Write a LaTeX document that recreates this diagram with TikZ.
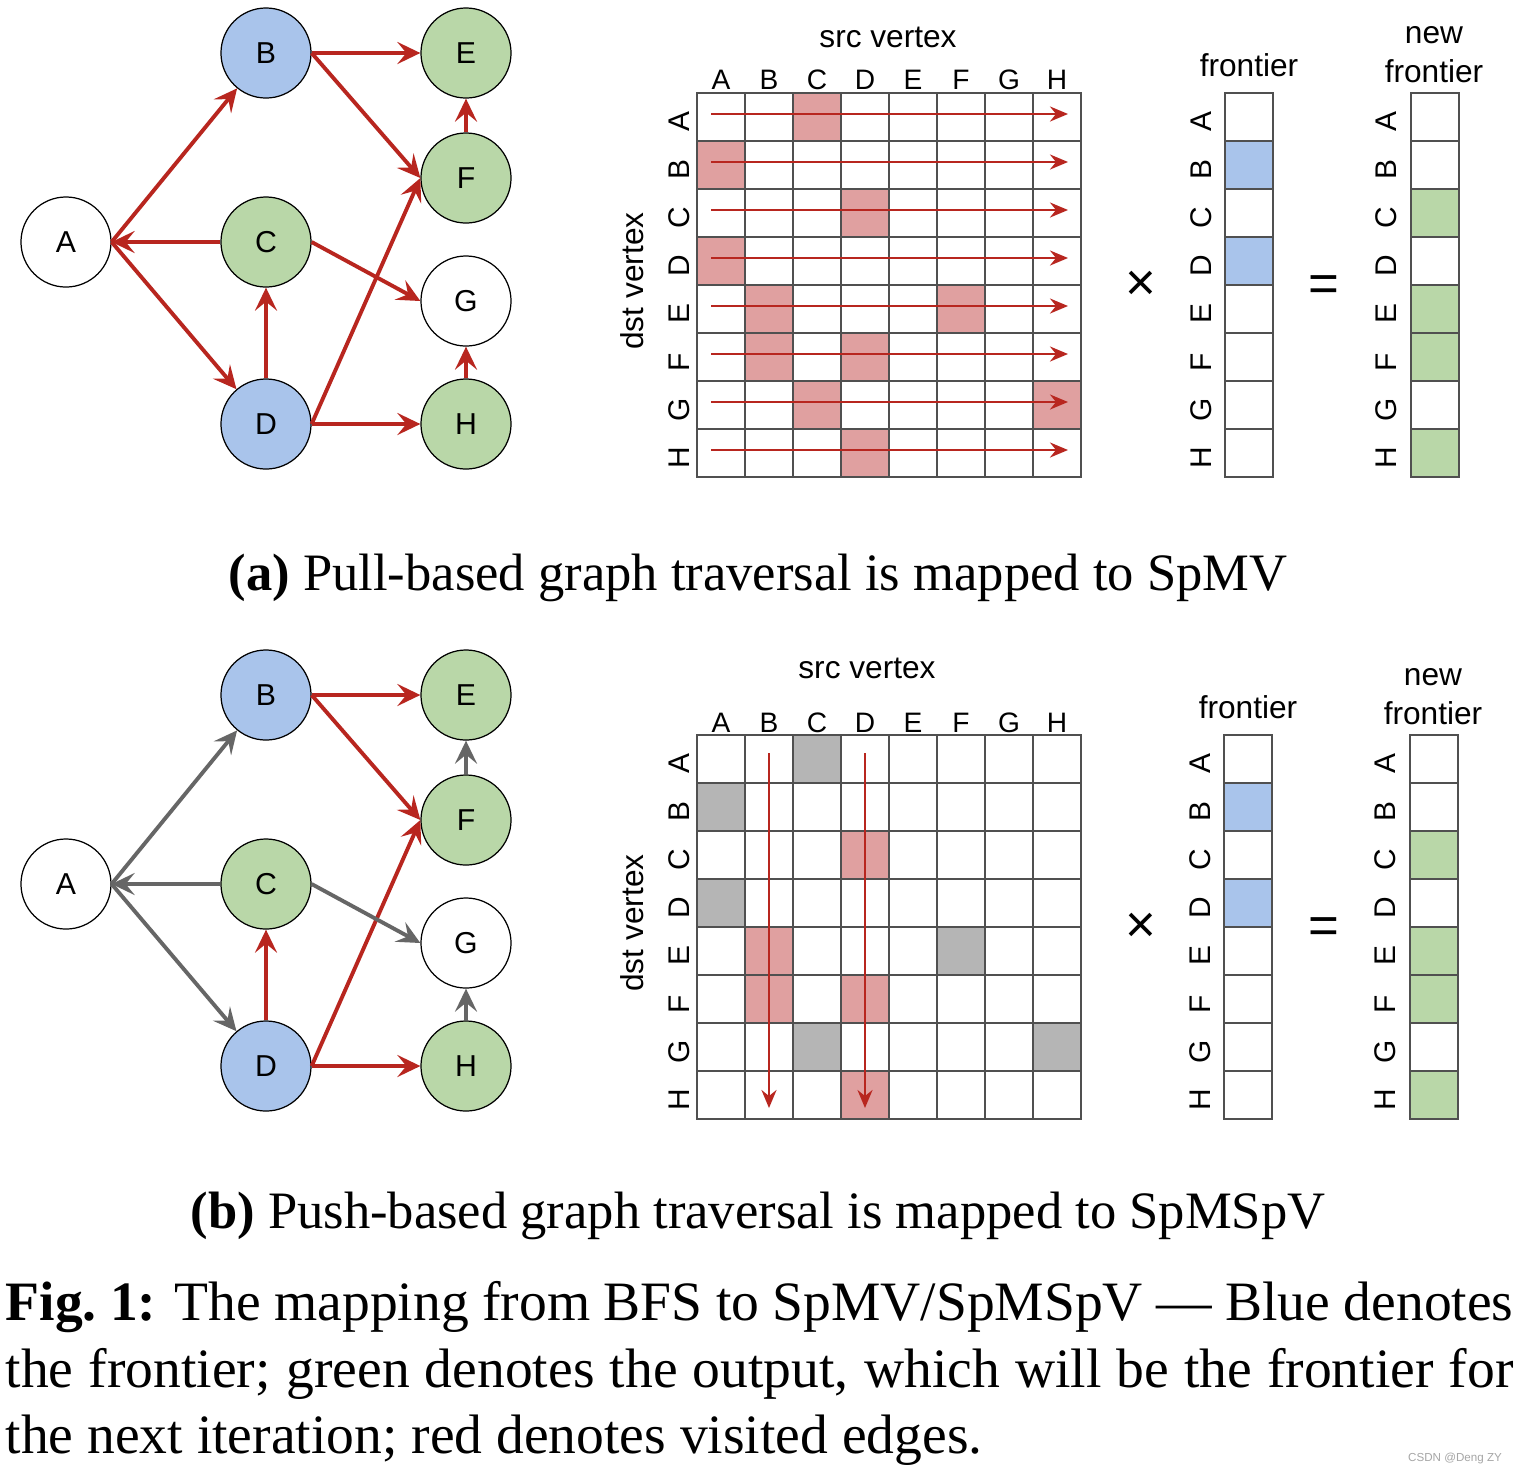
\documentclass[tikz,border=0pt]{standalone}
\usepackage{fontspec}
\setmainfont{Liberation Serif}
\newfontfamily\diagfont{Liberation Sans}
\usetikzlibrary{arrows.meta,positioning}

\definecolor{edgered}{HTML}{B8261F}
\definecolor{edgegray}{HTML}{666666}
\definecolor{frontblue}{HTML}{A9C4EB}
\definecolor{outgreen}{HTML}{B9D7A8}
\definecolor{cellred}{HTML}{E0A0A0}
\definecolor{cellgray}{HTML}{B5B5B5}
\definecolor{gridgray}{HTML}{505050}

\tikzset{
  vertex/.style={circle, draw=black, line width=0.35pt, minimum size=0.9cm,
    inner sep=0pt, font=\diagfont\fontsize{8.6}{10}\selectfont},
  visited/.style={draw=edgered, line width=1.1pt,
    -{Stealth[length=2.3mm, width=2.2mm, inset=0.9mm]}},
  unvisited/.style={visited, draw=edgegray},
  cell/.style={rectangle, draw=gridgray, line width=0.4pt, minimum size=0.48cm,
    inner sep=0pt, outer sep=0pt},
  paint/.style={draw=gridgray, line width=0.4pt},
  scan/.style={draw=edgered, line width=0.75pt,
    -{Stealth[length=1.8mm, width=1.5mm, inset=0.6mm]}},
  collabel/.style={font=\diagfont\fontsize{8}{9}\selectfont, anchor=base, inner sep=0pt},
  rowlabel/.style={font=\diagfont\fontsize{8.5}{10}\selectfont, anchor=base, rotate=90, inner sep=0pt},
  axislabel/.style={font=\diagfont\fontsize{9}{11}\selectfont, anchor=base, inner sep=0pt},
  opsign/.style={font=\diagfont\fontsize{15}{17}\selectfont, inner sep=0pt},
  subcap/.style={font=\fontsize{14.95}{18}\selectfont, anchor=base, inner sep=0pt},
}

\begin{document}
\begin{tikzpicture}[x=0.01cm, y=-0.01cm]
    \fill[white] (0,0) rectangle (1518,1472);
    \useasboundingbox (0,0) rectangle (1518,1472);

    % (a) pull-based graph
    \node[vertex] (a-A) at (66,242) {A};
    \node[vertex, fill=frontblue] (a-B) at (266,53) {B};
    \node[vertex, fill=outgreen] (a-C) at (266,242) {C};
    \node[vertex, fill=frontblue] (a-D) at (266,424) {D};
    \node[vertex, fill=outgreen] (a-E) at (466,53) {E};
    \node[vertex, fill=outgreen] (a-F) at (466,178) {F};
    \node[vertex] (a-G) at (466,301) {G};
    \node[vertex, fill=outgreen] (a-H) at (466,424) {H};
    \draw[visited] (a-A.east) -- (a-B);
    \draw[visited] (a-C.west) -- (a-A.east);
    \draw[visited] (a-A.east) -- (a-D);
    \draw[visited] (a-D.north) -- (a-C.south);
    \draw[visited] (a-B.east) -- (a-E.west);
    \draw[visited] (a-B.east) -- (a-F.west);
    \draw[visited] (a-F.north) -- (a-E.south);
    \draw[visited] (a-D.east) -- (a-F.west);
    \draw[visited] (a-C.east) -- (a-G.west);
    \draw[visited] (a-D.east) -- (a-H.west);
    \draw[visited] (a-H.north) -- (a-G.south);

    % (a) adjacency matrix, rows = dst, columns = src
    \foreach \r in {1,...,8}
        \foreach \c in {1,...,8}
            \node[cell] (ma-\r-\c) at ({673+48*\c},{69+48*\r}) {};
    \foreach \r/\c in {1/3,2/1,3/4,4/1,5/2,5/6,6/2,6/4,7/3,7/8,8/4}
        \filldraw[paint, fill=cellred] (ma-\r-\c.south west) rectangle (ma-\r-\c.north east);
    \foreach \l [count=\i] in {A,B,C,D,E,F,G,H} {
        \node[collabel] (ca-\i) at ([yshift=0.03cm]ma-1-\i.north) {\l};
        \node[rowlabel] (ra-\i) at ([xshift=-0.07cm,yshift=-0.05cm]ma-\i-1.west) {\l};
        \draw[scan] ([xshift=-0.1cm,yshift=0.03cm]ma-\i-1.center) -- ([xshift=0.11cm,yshift=0.03cm]ma-\i-8.center);
    }
    \node[axislabel] (srca) at (888,47) {src vertex};
    \node[axislabel, rotate=90] (dsta) at (643,281) {dst vertex};

    % (a) frontier and new frontier
    \node[opsign] (timesa) at (1141,286) {×};
    \node[opsign] (equala) at (1324,289) {=};
    \foreach \r in {1,...,8} {
        \node[cell] (fa-\r) at (1249,{69+48*\r}) {};
        \node[cell] (na-\r) at (1435,{69+48*\r}) {};
    }
    \foreach \r in {2,4}
        \filldraw[paint, fill=frontblue] (fa-\r.south west) rectangle (fa-\r.north east);
    \foreach \r in {3,5,6,8}
        \filldraw[paint, fill=outgreen] (na-\r.south west) rectangle (na-\r.north east);
    \foreach \l [count=\i] in {A,B,C,D,E,F,G,H} {
        \node[rowlabel] (rfa-\i) at ([xshift=-0.13cm,yshift=-0.05cm]fa-\i.west) {\l};
        \node[rowlabel] (rna-\i) at ([xshift=-0.14cm,yshift=-0.05cm]na-\i.west) {\l};
    }
    \node[axislabel] (fronta) at (1249,76) {frontier};
    \node[axislabel] (newa) at (1434,43) {new};
    \node[axislabel] (newfronta) at (1434,82) {frontier};

    \node[subcap] (capa) at (758,590) {\textbf{(a)} Pull-based graph traversal is mapped to SpMV};

    % (b) push-based graph
    \node[vertex] (b-A) at (66,884) {A};
    \node[vertex, fill=frontblue] (b-B) at (266,695) {B};
    \node[vertex, fill=outgreen] (b-C) at (266,884) {C};
    \node[vertex, fill=frontblue] (b-D) at (266,1066) {D};
    \node[vertex, fill=outgreen] (b-E) at (466,695) {E};
    \node[vertex, fill=outgreen] (b-F) at (466,820) {F};
    \node[vertex] (b-G) at (466,943) {G};
    \node[vertex, fill=outgreen] (b-H) at (466,1066) {H};
    \draw[unvisited] (b-A.east) -- (b-B);
    \draw[unvisited] (b-C.west) -- (b-A.east);
    \draw[unvisited] (b-A.east) -- (b-D);
    \draw[visited] (b-D.north) -- (b-C.south);
    \draw[visited] (b-B.east) -- (b-E.west);
    \draw[visited] (b-B.east) -- (b-F.west);
    \draw[unvisited] (b-F.north) -- (b-E.south);
    \draw[visited] (b-D.east) -- (b-F.west);
    \draw[unvisited] (b-C.east) -- (b-G.west);
    \draw[visited] (b-D.east) -- (b-H.west);
    \draw[unvisited] (b-H.north) -- (b-G.south);

    % (b) adjacency matrix, only columns B and D are read
    \foreach \r in {1,...,8}
        \foreach \c in {1,...,8}
            \node[cell] (mb-\r-\c) at ({673+48*\c},{711+48*\r}) {};
    \foreach \r/\c in {1/3,2/1,4/1,5/6,7/3,7/8}
        \filldraw[paint, fill=cellgray] (mb-\r-\c.south west) rectangle (mb-\r-\c.north east);
    \foreach \r/\c in {3/4,5/2,6/2,6/4,8/4}
        \filldraw[paint, fill=cellred] (mb-\r-\c.south west) rectangle (mb-\r-\c.north east);
    \foreach \l [count=\i] in {A,B,C,D,E,F,G,H} {
        \node[collabel] (cb-\i) at ([yshift=0.03cm]mb-1-\i.north) {\l};
        \node[rowlabel] (rb-\i) at ([xshift=-0.07cm,yshift=-0.05cm]mb-\i-1.west) {\l};
    }
    \foreach \c in {2,4}
        \draw[scan] ([yshift=0.06cm]mb-1-\c.center) -- ([yshift=-0.13cm]mb-8-\c.center);
    \node[axislabel] (srcb) at (867,678) {src vertex};
    \node[axislabel, rotate=90] (dstb) at (643,923) {dst vertex};

    % (b) frontier and new frontier
    \node[opsign] (timesb) at (1141,928) {×};
    \node[opsign] (equalb) at (1324,931) {=};
    \foreach \r in {1,...,8} {
        \node[cell] (fb-\r) at (1248,{711+48*\r}) {};
        \node[cell] (nb-\r) at (1434,{711+48*\r}) {};
    }
    \foreach \r in {2,4}
        \filldraw[paint, fill=frontblue] (fb-\r.south west) rectangle (fb-\r.north east);
    \foreach \r in {3,5,6,8}
        \filldraw[paint, fill=outgreen] (nb-\r.south west) rectangle (nb-\r.north east);
    \foreach \l [count=\i] in {A,B,C,D,E,F,G,H} {
        \node[rowlabel] (rfb-\i) at ([xshift=-0.13cm,yshift=-0.05cm]fb-\i.west) {\l};
        \node[rowlabel] (rnb-\i) at ([xshift=-0.14cm,yshift=-0.05cm]nb-\i.west) {\l};
    }
    \node[axislabel] (frontb) at (1248,718) {frontier};
    \node[axislabel] (newb) at (1433,685) {new};
    \node[axislabel] (newfrontb) at (1433,724) {frontier};

    \node[subcap] (capb) at (758,1228) {\textbf{(b)} Push-based graph traversal is mapped to SpMSpV};

    % figure caption
    \node[anchor=north west, inner sep=0pt, align=left, font=\fontsize{15.8}{18.9}\selectfont] (figcap) at (5,1281)
        {\hbox to 15.07cm{\textbf{Fig.~1:} The mapping from BFS to SpMV/SpMSpV — Blue denotes}\\
         \hbox to 15.07cm{the frontier; green denotes the output, which will be the frontier for}\\
         the next iteration; red denotes visited edges.};
    \node[anchor=base, inner sep=0pt, text=gray!70, font=\diagfont\fontsize{3.3}{4}\selectfont] (mark) at (1455,1461) {CSDN @Deng ZY};
\end{tikzpicture}
\end{document}
